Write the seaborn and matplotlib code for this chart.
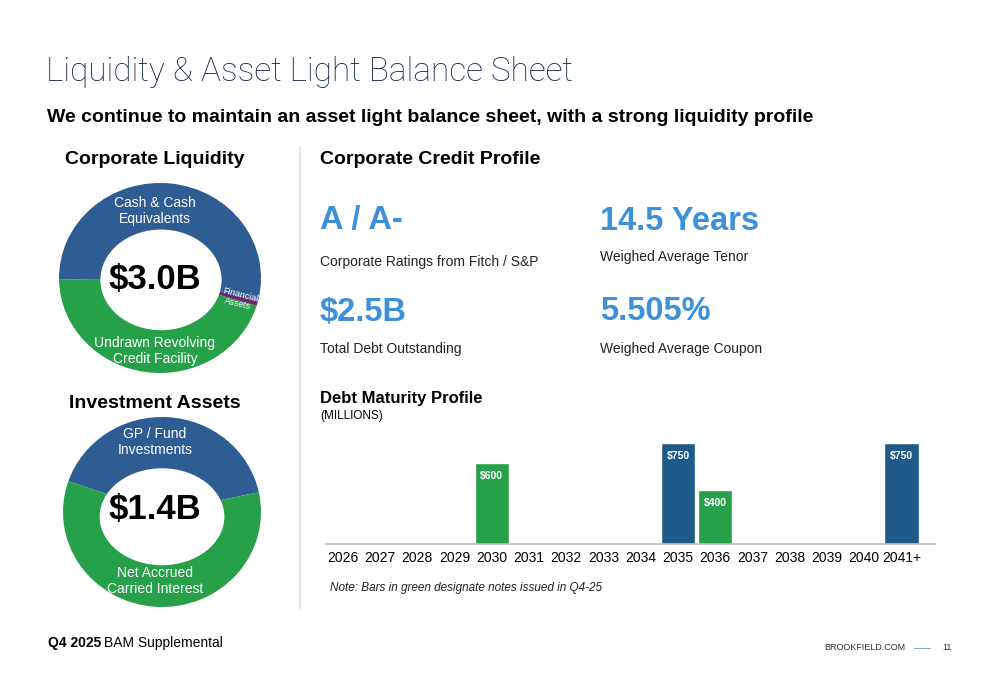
import matplotlib
matplotlib.use("Agg")
import matplotlib.pyplot as plt
from matplotlib.patches import Ellipse
import seaborn as sns

# ---- data ----
liq_labels = ["Undrawn Revolving\nCredit Facility", "Financial\nAssets", "Cash & Cash\nEquivalents"]
liq_values = [1.35, 0.03, 1.62]          # $B
inv_labels = ["GP / Fund\nInvestments", "Net Accrued\nCarried Interest"]
inv_values = [0.58, 0.82]                # $B

years = ["2026", "2027", "2028", "2029", "2030", "2031", "2032", "2033",
         "2034", "2035", "2036", "2037", "2038", "2039", "2040", "2041+"]
maturities = [0, 0, 0, 0, 600, 0, 0, 0, 0, 750, 400, 0, 0, 0, 0, 750]   # $M
issued_q4 = [False, False, False, False, True, False, False, False,
             False, False, True, False, False, False, False, False]

metrics = [("A / A-", "Corporate Ratings from Fitch / S&P"),
           ("14.5 Years", "Weighed Average Tenor"),
           ("$2.5B", "Total Debt Outstanding"),
           ("5.505%", "Weighed Average Coupon")]

BLUE = "#2e5d93"
BAR_BLUE = "#1e5a87"
GREEN = "#27a04a"
PURPLE = "#6a2b6e"
LIGHT_BLUE = "#3d90da"
NAVY = "#14294a"

sns.set_theme(style="white")
plt.rcParams["font.family"] = ["Liberation Sans", "DejaVu Sans"]
plt.rcParams["text.color"] = "black"

W, H = 1000, 685
fig = plt.figure(figsize=(10, 6.85), dpi=100)
fig.patch.set_facecolor("white")

def fx(x):
    return x / W

def fy(y):
    return 1 - y / H

def txt(x, y, s, **kw):
    # small downward nudge: centre of glyph box sits a bit high vs. the slide
    kw.setdefault("va", "center")
    fig.text(fx(x), fy(y + 2), s, **kw)

# ---- headings ----
txt(46, 70, "Liquidity & Asset Light Balance Sheet", fontsize=24, color=NAVY,
    family=["Roboto", "DejaVu Sans"], fontweight="light")
txt(47, 115, "We continue to maintain an asset light balance sheet, with a strong liquidity profile",
    fontsize=14, fontweight="bold")
txt(155, 157, "Corporate Liquidity", fontsize=14, fontweight="bold", ha="center")
txt(155, 401, "Investment Assets", fontsize=14, fontweight="bold", ha="center")
txt(320, 157, "Corporate Credit Profile", fontsize=14, fontweight="bold")

# separator
fig.add_artist(plt.Line2D([fx(300), fx(300)], [fy(148), fy(608)], color="#e3e3e3", lw=1.5))

# ---- donut helper ----
def donut(box, values, colors, start, hole):
    x0, y0, x1, y1 = box
    ax = fig.add_axes([fx(x0), fy(y1), fx(x1 - x0), (y1 - y0) / H])
    ax.pie(values, colors=colors, startangle=start, counterclock=True,
           wedgeprops=dict(edgecolor="none"))
    ax.set_aspect("auto")
    ax.set_xlim(-1, 1)
    ax.set_ylim(-1, 1)
    cx, cy, rx, ry = hole
    ax.add_patch(Ellipse((cx, cy), 2 * rx, 2 * ry, facecolor="white", edgecolor="none", zorder=5))
    ax.axis("off")
    return ax

donut((59, 183, 261, 373), liq_values, [GREEN, PURPLE, BLUE], 181, (0.01, -0.02, 0.60, 0.53))
donut((63, 417, 261, 607), inv_values, [BLUE, GREEN], 12, (0.0, -0.05, 0.63, 0.51))

lab = dict(fontsize=10, color="white", ha="center", linespacing=1.15)
txt(155, 209, liq_labels[2], **lab)
txt(155, 349, liq_labels[0], **lab)
txt(239, 297, liq_labels[1], fontsize=6.5, color="white", ha="center", rotation=-14, linespacing=1.0)
txt(155, 277, "$3.0B", fontsize=25, fontweight="bold", ha="center")

txt(155, 440, inv_labels[0], **lab)
txt(155, 579, inv_labels[1], **lab)
txt(155, 508, "$1.4B", fontsize=25, fontweight="bold", ha="center")

# ---- credit metrics ----
pos = [(320, 218, 260), (600, 219, 255), (320, 310, 347), (600, 310, 347)]
for (big, small), (x, yb, ys) in zip(metrics, pos):
    txt(x, yb, big, fontsize=23.5, fontweight="bold", color=LIGHT_BLUE)
    txt(x, ys, small, fontsize=10, color="#222222")

# ---- debt maturity ----
txt(320, 397, "Debt Maturity Profile", fontsize=12, fontweight="bold")
txt(320, 414, "(MILLIONS)", fontsize=8.5)

ax = fig.add_axes([fx(326), fy(544), fx(935 - 326), 107.7 / H])
sns.barplot(x=years, y=maturities, hue=issued_q4, palette={True: GREEN, False: BAR_BLUE},
            dodge=False, width=0.92, legend=False, ax=ax, saturation=1)
ax.set_xlim(-0.45, 15.9)
ax.set_ylim(0, 800)
ax.set_yticks([])
ax.set_xlabel("")
ax.set_ylabel("")
for s in ["top", "right", "left"]:
    ax.spines[s].set_visible(False)
ax.spines["bottom"].set_color("#bdbdbd")
ax.spines["bottom"].set_linewidth(1.2)
ax.tick_params(axis="x", length=0, pad=5, labelsize=10, colors="black")
for i, v in enumerate(maturities):
    if v > 0:
        ax.text(i, v - 95, f"${v:,}", ha="center", va="center", color="white",
                fontsize=7.5, fontweight="bold")

txt(330, 586, "Note: Bars in green designate notes issued in Q4-25", fontsize=8.5, style="italic",
    color="#222222")

# ---- footer ----
txt(48, 641, "Q4 2025", fontsize=10, fontweight="bold")
txt(104, 641, "BAM Supplemental", fontsize=10)
txt(905, 646, "BROOKFIELD.COM", fontsize=6.5, ha="right", color="#333333")
fig.add_artist(plt.Line2D([fx(914), fx(930)], [fy(648), fy(648)], color="#8aa6c1", lw=0.8))
txt(947, 646, "11", fontsize=6.5, ha="center", color="#333333")

fig.savefig("out.png", dpi=100, facecolor="white")
